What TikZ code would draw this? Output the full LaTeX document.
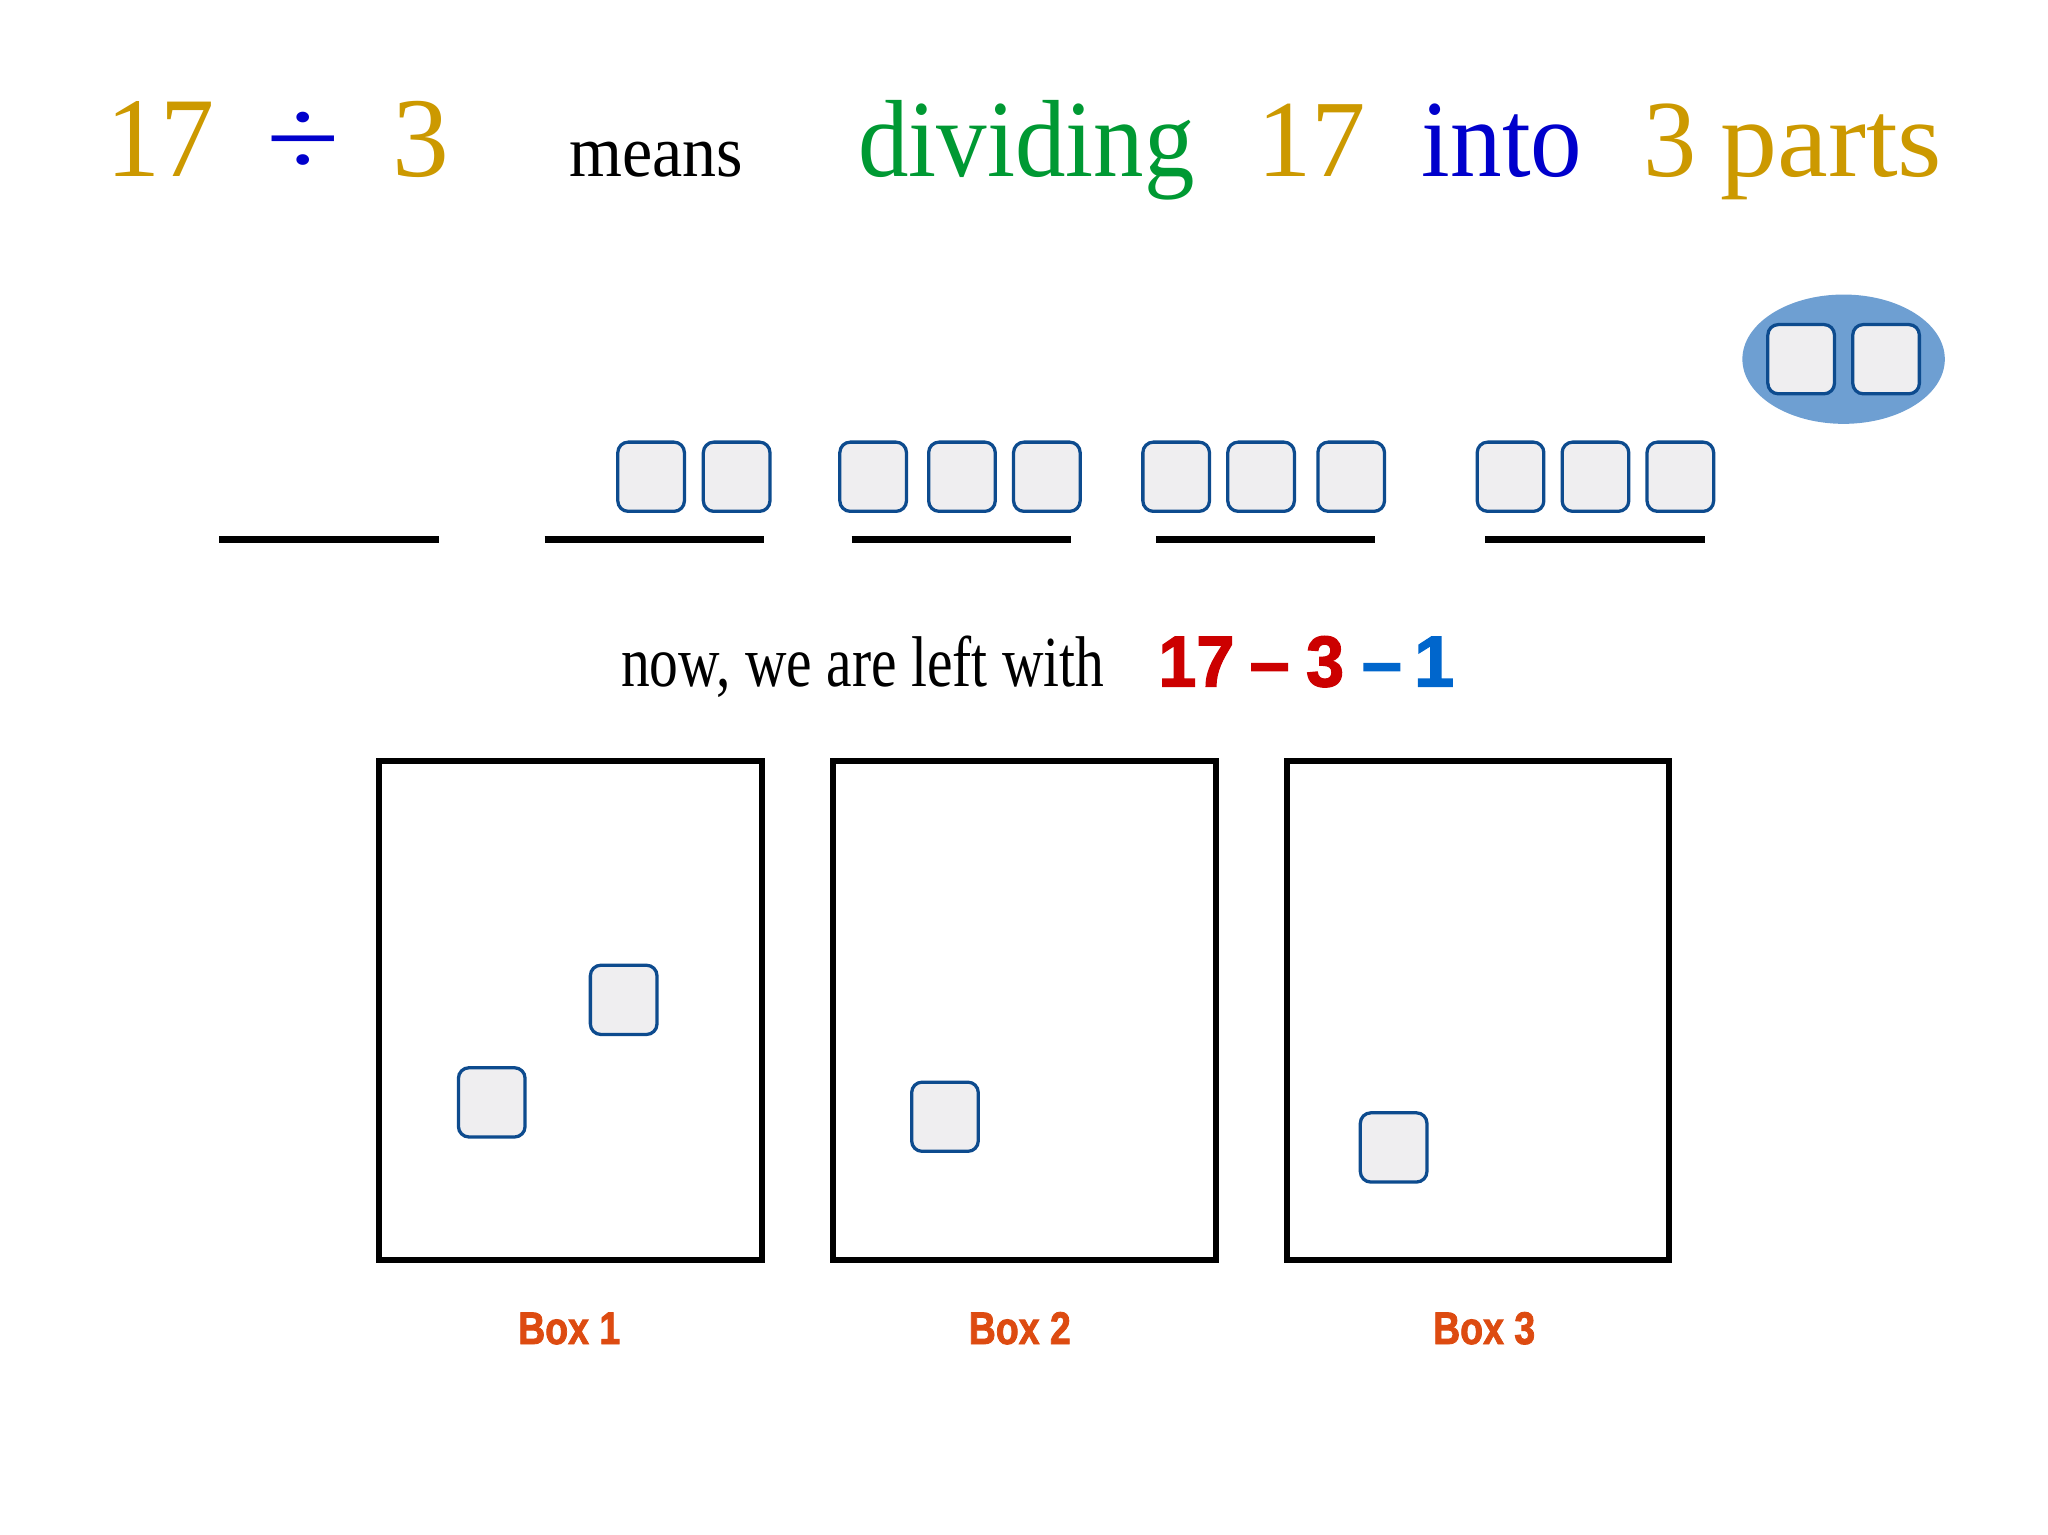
\documentclass[tikz,border=0pt]{standalone}
\usepackage{fontspec}
\setmainfont{Liberation Serif}
\newfontfamily\impact{Liberation Sans}[FakeBold=2]
\definecolor{gold}{HTML}{CC9900}
\definecolor{grn}{HTML}{009933}
\definecolor{dblue}{HTML}{0000CC}
\definecolor{tileblue}{HTML}{0D4B8E}
\definecolor{tilegray}{HTML}{EFEEF0}
\definecolor{ellfill}{HTML}{6E9FD2}
\definecolor{redx}{HTML}{CC0000}
\definecolor{bluex}{HTML}{0066CC}
\definecolor{orng}{HTML}{DD4B11}
\newcommand{\hsx}[2]{\scalebox{#1}[1]{#2}}
\begin{document}
\begin{tikzpicture}[x=1pt,y=-1pt,
  tile/.style={draw=tileblue,fill=tilegray,line width=2.5pt,rounded corners=8pt,minimum width=51pt,minimum height=53pt,inner sep=0pt},
  txt/.style={inner sep=0pt,anchor=base},
  titleA/.style={txt,font=\fontsize{87}{87}\selectfont},
  titleB/.style={txt,font=\fontsize{84}{84}\selectfont},
  rule/.style={line width=5pt},
  boxfr/.style={draw,line width=4.5pt,minimum width=293pt,minimum height=382pt,inner sep=0pt},
  eqn/.style={txt,font=\impact\bfseries\fontsize{55}{55}\selectfont},
  boxlab/.style={txt,text=orng,font=\impact\bfseries\fontsize{35}{35}\selectfont}]
\useasboundingbox (0,0) rectangle (1568,1175);
% title
\node[titleA,text=gold] (t1) at (122.5,135.3) {\hsx{0.95}{17}};
\node[titleA,text=dblue] (t2) at (232.5,135.3) {\hsx{1.18}{÷}};
\node[titleA,text=gold] (t3) at (322.5,135.3) {3};
\node[txt,font=\fontsize{56}{56}\selectfont] (t4) at (502.5,135.3) {\hsx{0.93}{means}};
\node[titleB,text=grn] (t5) at (786,135.3) {\hsx{0.92}{dividing}};
\node[titleB,text=gold] (t6) at (1004,135.3) {\hsx{0.99}{17}};
\node[titleB,text=dblue] (t7) at (1150,135.3) {\hsx{0.94}{into}};
\node[titleB,text=gold] (t8) at (1278.5,135.3) {\hsx{0.97}{3}};
\node[titleB,text=gold] (t9) at (1402,135.3) {\hsx{1.04}{parts}};
% lines
\draw[rule] (168,413) -- (336,413);
\draw[rule] (417,413) -- (585,413);
\draw[rule] (652,413) -- (820,413);
\draw[rule] (885,413) -- (1053,413);
\draw[rule] (1137,413) -- (1305,413);
% tiles row
\node[tile] (a1) at (498.5,365) {};
\node[tile] (a2) at (564,365) {};
\node[tile] (b1) at (668.5,365) {};
\node[tile] (b2) at (736.5,365) {};
\node[tile] (b3) at (801.5,365) {};
\node[tile] (c1) at (900.5,365) {};
\node[tile] (c2) at (965.5,365) {};
\node[tile] (c3) at (1034.5,365) {};
\node[tile] (d1) at (1156.5,365) {};
\node[tile] (d2) at (1221.5,365) {};
\node[tile] (d3) at (1286.5,365) {};
% ellipse group
\fill[ellfill] (1411.5,275) ellipse [x radius=77.5pt, y radius=49.5pt];
\node[tile] (e1) at (1379,275) {};
\node[tile] (e2) at (1444,275) {};
% now we are left
\node[txt,font=\fontsize{55}{55}\selectfont] (n1) at (660.5,525.5) {\hsx{0.8}{now, we are left with}};
\node[eqn,text=redx] (n2) at (916,525.5) {\hsx{0.95}{17}};
\node[eqn,text=redx] (n3) at (972,525.5) {–};
\node[eqn,text=redx] (n4) at (1014.5,525.5) {\hsx{0.95}{3}};
\node[eqn,text=bluex] (n5) at (1058,525.5) {–};
\node[eqn,text=bluex] (n6) at (1098,525.5) {1};
% boxes
\node[boxfr] (box1) at (436.8,773.6) {};
\node[boxfr] (box2) at (784.5,773.6) {};
\node[boxfr] (box3) at (1131.6,773.6) {};
\node[tile] (f1) at (477.5,765.5) {};
\node[tile] (f2) at (376.5,844) {};
\node[tile] (g1) at (723.5,855) {};
\node[tile] (h1) at (1067,878.5) {};
\node[boxlab] (l1) at (435.8,1029) {\hsx{0.82}{Box 1}};
\node[boxlab] (l2) at (780.8,1029) {\hsx{0.82}{Box 2}};
\node[boxlab] (l3) at (1136.3,1029) {\hsx{0.82}{Box 3}};
\end{tikzpicture}
\end{document}
